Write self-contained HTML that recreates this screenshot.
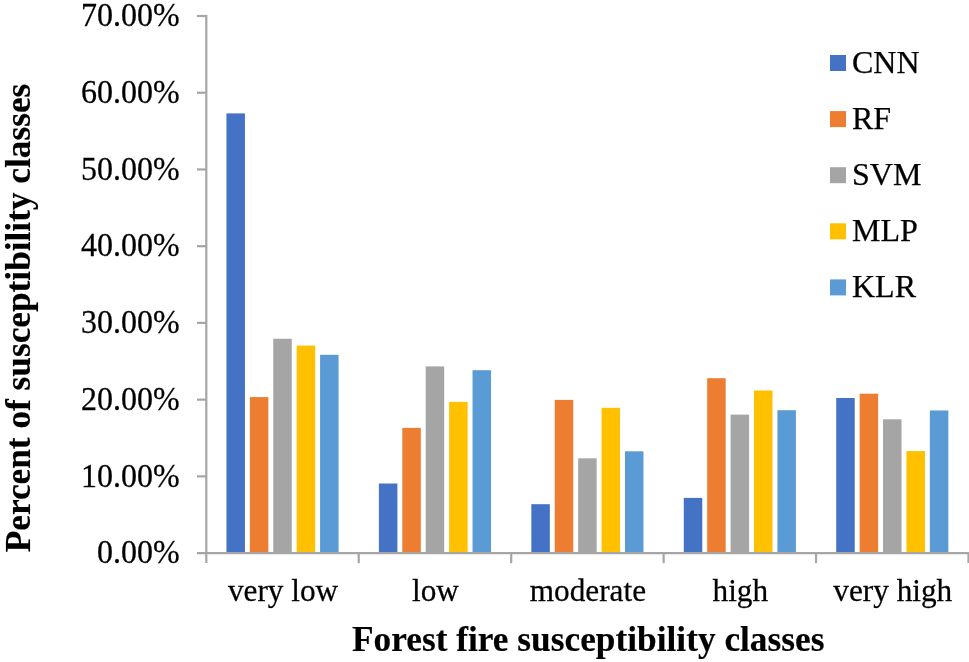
<!DOCTYPE html>
<html lang="en"><head><meta charset="utf-8"><title>Forest fire susceptibility classes</title>
<style>html,body{margin:0;padding:0;background:#fff}body{width:969px;height:662px;overflow:hidden}svg{display:block}text{font-family:"Liberation Serif","Times New Roman",serif;fill:#000;stroke:#000;stroke-width:0.25px}.b{font-weight:bold;stroke-width:0.15px}</style></head><body>
<svg width="969" height="662" viewBox="0 0 969 662">
<rect width="969" height="662" fill="#fff"/>
<rect x="226.45" y="113.40" width="18.50" height="439.70" fill="#4472C4"/>
<rect x="249.86" y="397.10" width="18.50" height="156.00" fill="#ED7D31"/>
<rect x="273.27" y="338.75" width="18.50" height="214.35" fill="#A5A5A5"/>
<rect x="296.68" y="345.55" width="18.50" height="207.55" fill="#FFC000"/>
<rect x="320.09" y="354.80" width="18.50" height="198.30" fill="#5B9BD5"/>
<rect x="378.89" y="483.50" width="18.50" height="69.60" fill="#4472C4"/>
<rect x="402.30" y="427.90" width="18.50" height="125.20" fill="#ED7D31"/>
<rect x="425.71" y="366.40" width="18.50" height="186.70" fill="#A5A5A5"/>
<rect x="449.12" y="401.90" width="18.50" height="151.20" fill="#FFC000"/>
<rect x="472.53" y="370.20" width="18.50" height="182.90" fill="#5B9BD5"/>
<rect x="531.33" y="504.20" width="18.50" height="48.90" fill="#4472C4"/>
<rect x="554.74" y="399.90" width="18.50" height="153.20" fill="#ED7D31"/>
<rect x="578.15" y="458.30" width="18.50" height="94.80" fill="#A5A5A5"/>
<rect x="601.56" y="407.80" width="18.50" height="145.30" fill="#FFC000"/>
<rect x="624.97" y="451.30" width="18.50" height="101.80" fill="#5B9BD5"/>
<rect x="683.77" y="497.90" width="18.50" height="55.20" fill="#4472C4"/>
<rect x="707.18" y="378.20" width="18.50" height="174.90" fill="#ED7D31"/>
<rect x="730.59" y="414.60" width="18.50" height="138.50" fill="#A5A5A5"/>
<rect x="754.00" y="390.50" width="18.50" height="162.60" fill="#FFC000"/>
<rect x="777.41" y="410.20" width="18.50" height="142.90" fill="#5B9BD5"/>
<rect x="836.21" y="398.00" width="18.50" height="155.10" fill="#4472C4"/>
<rect x="859.62" y="393.70" width="18.50" height="159.40" fill="#ED7D31"/>
<rect x="883.03" y="419.30" width="18.50" height="133.80" fill="#A5A5A5"/>
<rect x="906.44" y="451.05" width="18.50" height="102.05" fill="#FFC000"/>
<rect x="929.85" y="410.45" width="18.50" height="142.65" fill="#5B9BD5"/>
<g stroke="#A6A6A6" stroke-width="2.2" fill="none">
<path d="M206.30 14.90 V563.10"/>
<path d="M197.00 553.10 H969.60"/>
<path d="M197 476.37 H206.30"/>
<path d="M197 399.64 H206.30"/>
<path d="M197 322.91 H206.30"/>
<path d="M197 246.19 H206.30"/>
<path d="M197 169.46 H206.30"/>
<path d="M197 92.73 H206.30"/>
<path d="M197 16.00 H206.30"/>
<path d="M358.74 553.10 V563.10"/>
<path d="M511.18 553.10 V563.10"/>
<path d="M663.62 553.10 V563.10"/>
<path d="M816.06 553.10 V563.10"/>
<path d="M968.50 553.10 V563.10"/>
</g>
<text transform="translate(179.6 563.40) scale(1 1.07)" font-size="32" text-anchor="end">0.00%</text>
<text transform="translate(179.6 486.67) scale(1 1.07)" font-size="32" text-anchor="end">10.00%</text>
<text transform="translate(179.6 409.94) scale(1 1.07)" font-size="32" text-anchor="end">20.00%</text>
<text transform="translate(179.6 333.21) scale(1 1.07)" font-size="32" text-anchor="end">30.00%</text>
<text transform="translate(179.6 256.49) scale(1 1.07)" font-size="32" text-anchor="end">40.00%</text>
<text transform="translate(179.6 179.76) scale(1 1.07)" font-size="32" text-anchor="end">50.00%</text>
<text transform="translate(179.6 103.03) scale(1 1.07)" font-size="32" text-anchor="end">60.00%</text>
<text transform="translate(179.6 26.30) scale(1 1.07)" font-size="32" text-anchor="end">70.00%</text>
<text transform="translate(283.02 601) scale(0.977 1)" font-size="32" text-anchor="middle">very low</text>
<text transform="translate(435.46 601) scale(0.977 1)" font-size="32" text-anchor="middle">low</text>
<text transform="translate(587.90 601) scale(0.977 1)" font-size="32" text-anchor="middle">moderate</text>
<text transform="translate(740.34 601) scale(0.977 1)" font-size="32" text-anchor="middle">high</text>
<text transform="translate(892.78 601) scale(0.977 1)" font-size="32" text-anchor="middle">very high</text>
<text class="b" transform="translate(588.2 651) scale(0.995 1)" font-size="35.5" text-anchor="middle">Forest fire susceptibility classes</text>
<text class="b" transform="translate(30 318.0) rotate(-90) scale(0.994 1)" font-size="35.5" text-anchor="middle">Percent of susceptibility classes</text>
<rect x="830" y="55.00" width="16" height="16" fill="#4472C4"/>
<text x="852" y="73.00" font-size="32">CNN</text>
<rect x="830" y="111.10" width="16" height="16" fill="#ED7D31"/>
<text x="852" y="129.10" font-size="32">RF</text>
<rect x="830" y="167.20" width="16" height="16" fill="#A5A5A5"/>
<text x="852" y="185.20" font-size="32">SVM</text>
<rect x="830" y="223.30" width="16" height="16" fill="#FFC000"/>
<text x="852" y="241.30" font-size="32">MLP</text>
<rect x="830" y="279.40" width="16" height="16" fill="#5B9BD5"/>
<text x="852" y="297.40" font-size="32">KLR</text>
</svg></body></html>
